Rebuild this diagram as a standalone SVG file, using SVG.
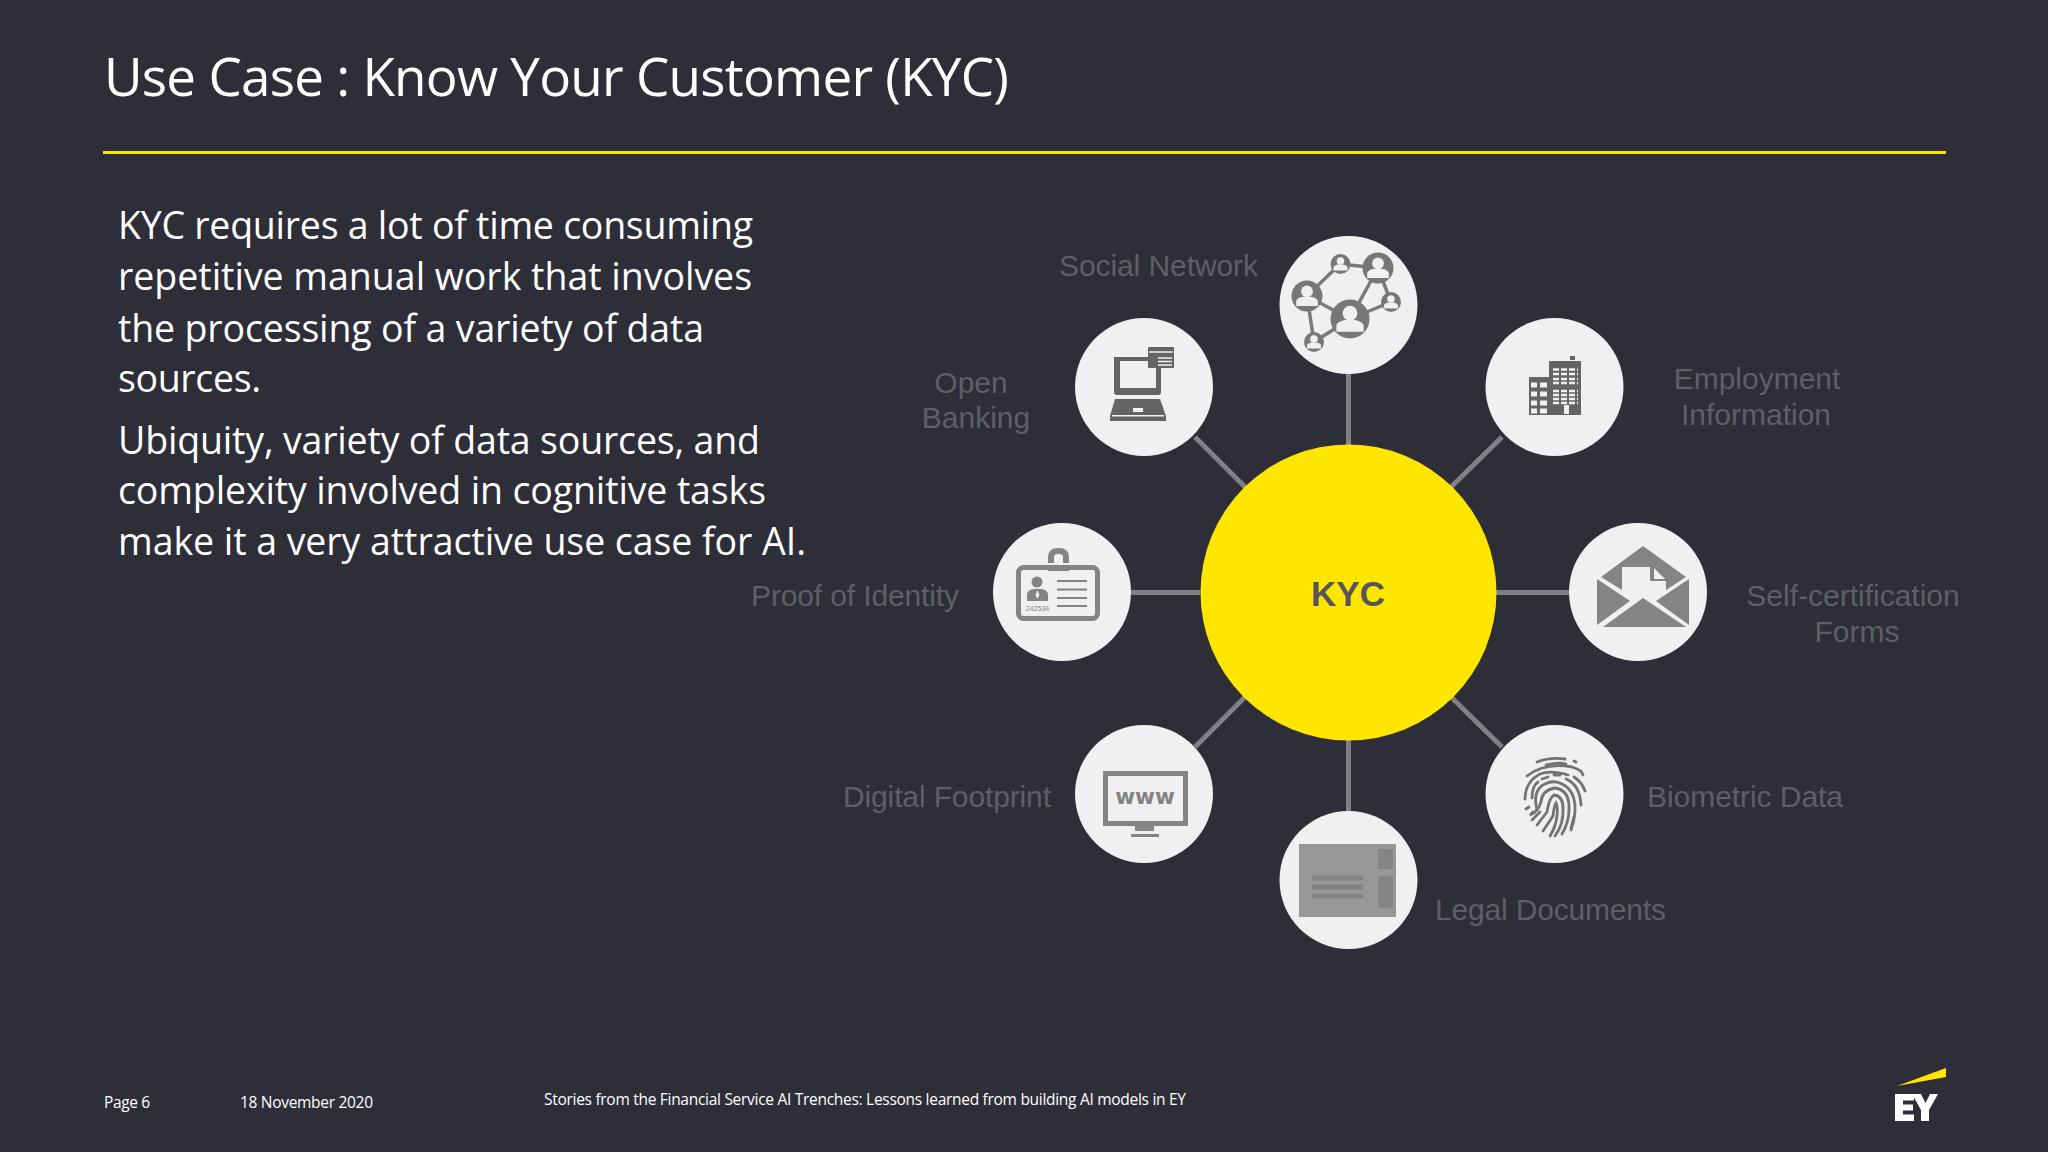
<svg xmlns="http://www.w3.org/2000/svg" width="2048" height="1152" viewBox="0 0 2048 1152">
<style>
.ui{font-family:"Open Sans","Noto Sans",sans-serif;fill:#fff}
.lb{font-family:"Liberation Sans",Arial,sans-serif;font-size:30px;fill:#5f5f66}
.body{font-size:37.5px}
.foot{font-size:15.500px}
.disc{fill:#f0f0f2}
.d{fill:#646464}
.m{fill:#848484}
.s{fill:#777}
.c{stroke:#7f7f84;stroke-width:5;fill:none}
.ln{stroke:#848484;fill:none}
</style>
<defs>
<g id="p"><circle cx="0" cy="-3" r="3.800" fill="#f0f0f2"/><path d="M-7 6.500V3.500Q-7 1.500-2.500 0.500H2.500Q7 1.500 7 3.500V6.500Z" fill="#f0f0f2"/></g>
</defs>
<rect width="2048" height="1152" fill="#2e2e38"/>
<text class="ui" x="104" y="96" font-size="53" textLength="905">Use Case : Know Your Customer (KYC)</text>
<rect x="103" y="151" width="1843" height="3" fill="#ffe600"/>
<g id="body" class="ui body">
<text x="118" y="239" textLength="635">KYC requires a lot of time consuming</text>
<text x="118" y="290" textLength="634">repetitive manual work that involves</text>
<text x="118" y="342" textLength="586">the processing of a variety of data</text>
<text x="118" y="392" textLength="143">sources.</text>
<text x="118" y="454" textLength="642">Ubiquity, variety of data sources, and</text>
<text x="118" y="504" textLength="648">complexity involved in cognitive tasks</text>
<text x="118" y="555" textLength="688">make it a very attractive use case for AI.</text>
</g>
<g id="connectors">
<path class="c" d="M1348.500 374V450M1348.500 738V811M1200 592.500H1131M1496 592.500H1569M1195 437L1246 488M1502 437L1450 488M1195 747L1246 696M1502 747L1450 696"/>
</g>
<g id="kyc"><circle cx="1348.500" cy="592.500" r="148" fill="#ffe600"/><text x="1348" y="606" text-anchor="middle" font-family="Liberation Sans,Arial,sans-serif" font-weight="700" font-size="35" fill="#55555a">KYC</text></g>
<g id="social-network">
<circle class="disc" cx="1348.500" cy="305" r="69"/>
<path d="M1340 264L1378 268M1307 296L1340 264M1307 296L1350 319M1307 296L1314 342M1314 342L1350 319M1350 319L1378 268M1378 268L1391 302M1350 319L1391 302" stroke="#7a7a7a" stroke-width="3.500" fill="none"/>
<circle class="s" cx="1340.500" cy="264" r="10"/><use href="#p" transform="translate(1340.500 264) scale(1)"/>
<circle class="s" cx="1378" cy="268" r="15.500"/><use href="#p" transform="translate(1378 268) scale(1.550)"/>
<circle class="s" cx="1307" cy="296" r="15.500"/><use href="#p" transform="translate(1307 296) scale(1.550)"/>
<circle class="s" cx="1391" cy="302" r="10"/><use href="#p" transform="translate(1391 302) scale(1)"/>
<circle class="s" cx="1350" cy="319" r="19.500"/><use href="#p" transform="translate(1350 319) scale(1.950)"/>
<circle class="s" cx="1314" cy="342" r="10"/><use href="#p" transform="translate(1314 342) scale(1)"/>
</g>
<g id="open-banking">
<circle class="disc" cx="1144" cy="387" r="69"/>
<path class="d" d="M1114 357H1158V348H1149V361H1120V388H1156V368H1161V392Q1161 395 1158 395H1117Q1114 395 1114 392Z"/>
<rect class="d" x="1148" y="347" width="26" height="21" rx="1"/>
<path d="M1149 352H1173M1158 358H1172M1158 361.500H1172M1158 365H1172" stroke="#f0f0f2" stroke-width="1.300"/>
<path class="d" d="M1115 399H1160L1166 416V421H1110V416Z"/>
<rect x="1133" y="408" width="10" height="4" fill="#f0f0f2"/><rect x="1112" y="415" width="52" height="1.500" fill="#f0f0f2"/>
</g>
<g id="employment-information">
<circle class="disc" cx="1554.500" cy="387" r="69"/>
<g transform="translate(20 0)">
<path class="d" d="M1529 377V361H1561V415H1529Z"/><path class="d" d="M1529 377H1509V415H1529Z"/><rect class="d" x="1550" y="356" width="5" height="4"/>
<path d="M1511 385H1517M1520 385H1527M1511 394H1517M1520 394H1527M1511 403H1517M1520 403H1527M1511 411H1517M1520 411H1527" stroke="#f0f0f2" stroke-width="5"/>
<path d="M1533 369.500H1558M1533 374H1558M1533 379H1558M1533 383H1558M1533 391H1558M1533 395H1558M1533 399H1558M1533 403H1558" stroke="#f0f0f2" stroke-width="2.500" stroke-dasharray="6 2"/>
<rect x="1544" y="405" width="5" height="9" fill="#f0f0f2"/>
</g>
</g>
<g id="proof-of-identity">
<circle class="disc" cx="1062" cy="592" r="69"/>
<path d="M1051 563V557Q1051 551 1058.500 551Q1066 551 1066 557V563" fill="none" stroke="#848484" stroke-width="6"/>
<rect x="1018.500" y="567.500" width="79" height="51" rx="5" fill="none" stroke="#848484" stroke-width="5"/>
<rect class="m" x="1048" y="565" width="21" height="6"/>
<circle class="m" cx="1037" cy="582" r="5.500"/><path class="m" d="M1027 601V594Q1028 590 1033 589H1042Q1047 590 1048 594V601Z"/>
<path d="M1037.500 590L1035.500 595L1037.500 599L1039.500 595Z" fill="#f0f0f2"/>
<path class="ln" stroke-width="2.200" d="M1057 581H1087M1057 589.500H1087M1057 598H1087M1057 606H1087"/>
<text x="1037.500" y="611" text-anchor="middle" font-family="Liberation Sans,sans-serif" font-size="7" fill="#848484">242534</text>
</g>
<g id="self-certification-forms">
<circle class="disc" cx="1638" cy="592" r="69"/>
<path class="m" d="M1643 546L1686 577L1666 590V581H1650V567H1622V590L1601 577ZM1597 579L1630 601L1597 625ZM1689 579V625L1656 601ZM1643 598L1686 627H1603Z"/>
<path d="M1654 568L1665 579H1654Z" fill="#f0f0f2"/>
</g>
<g id="digital-footprint">
<circle class="disc" cx="1144" cy="794" r="69"/>
<path class="m" fill-rule="evenodd" d="M1103 771H1188V826H1103ZM1108 776V821H1183V776Z"/>
<rect class="m" x="1135" y="826" width="19" height="5"/><rect class="m" x="1131" y="834" width="28" height="3"/>
<text x="1145" y="804" text-anchor="middle" font-family="DejaVu Sans,sans-serif" font-weight="700" font-size="21.500" fill="#848484">www</text>
</g>
<g id="biometric-data">
<circle class="disc" cx="1554.500" cy="794" r="69"/>
<g fill="none" stroke="#737373" stroke-width="2.800" stroke-linecap="round">
<path d="M1537 762Q1550 757 1565 759M1574 761L1576 762M1546 765Q1558 762 1566 764M1527 776Q1545 762 1572 767Q1582 770 1583 775"/>
<path d="M1525 799Q1525 782 1540 774Q1550 770 1568 775M1574 777Q1582 782 1585 791"/>
<path d="M1532 798Q1532 786 1538 782M1542 779L1548 777M1554 775H1560M1566 779Q1580 785 1581 805"/>
<path d="M1537 810Q1532 790 1545 784Q1556 778 1568 788Q1576 796 1575 812Q1574 822 1571 830"/>
<path d="M1529 807L1526 809M1533 812L1530 815Q1538 812 1541 802Q1542 790 1555 788Q1570 790 1569 810Q1569 822 1562 834M1532 820L1540 812"/>
<path d="M1537 825L1547 812Q1549 798 1554 795Q1563 796 1563 808Q1564 824 1555 836"/>
<path d="M1543 831L1553 816Q1554 806 1556 803Q1558 808 1557 816Q1556 826 1550 836"/>
<path d="M1574 817L1571 828"/>
</g>
</g>
<g id="legal-documents">
<circle class="disc" cx="1348.500" cy="880" r="69"/>
<rect x="1299" y="844" width="97" height="73" fill="#979797"/>
<path d="M1312 878H1363M1312 887H1363M1312 896H1363" stroke="#848484" stroke-width="5"/>
<rect x="1378" y="849" width="15" height="20" rx="1" fill="#848484"/><rect x="1378" y="876" width="15" height="32" rx="1" fill="#848484"/>
</g>
<g id="labels">
<text class="lb" x="1059" y="276" textLength="199">Social Network</text>
<text class="lb" x="971" y="393" text-anchor="middle">Open</text>
<text class="lb" x="976" y="428" text-anchor="middle">Banking</text>
<text class="lb" x="1757" y="389" text-anchor="middle">Employment</text>
<text class="lb" x="1756" y="425" text-anchor="middle">Information</text>
<text class="lb" x="751" y="606" textLength="208">Proof of Identity</text>
<text class="lb" x="1853" y="606" text-anchor="middle">Self-certification</text>
<text class="lb" x="1857" y="642" text-anchor="middle">Forms</text>
<text class="lb" x="843" y="807" textLength="208">Digital Footprint</text>
<text class="lb" x="1647" y="807" textLength="196">Biometric Data</text>
<text class="lb" x="1435" y="920" textLength="231">Legal Documents</text>
</g>
<g id="footer" class="ui foot">
<text x="104" y="1108" textLength="46">Page 6</text>
<text x="240" y="1108" textLength="133">18 November 2020</text>
<text x="544" y="1105" textLength="642">Stories from the Financial Service AI Trenches: Lessons learned from building AI models in EY</text>
</g>
<g id="ey-logo">
<path d="M1897 1086L1946 1068V1077Z" fill="#ffe600"/>
<path d="M1895 1094H1914V1100.500H1903V1104.500H1913V1110.500H1903V1114.500H1914V1121H1895ZM1912 1094H1921L1925.500 1103L1930 1094H1938L1929 1110V1121H1921V1110Z" fill="#fff"/>
</g>
</svg>
